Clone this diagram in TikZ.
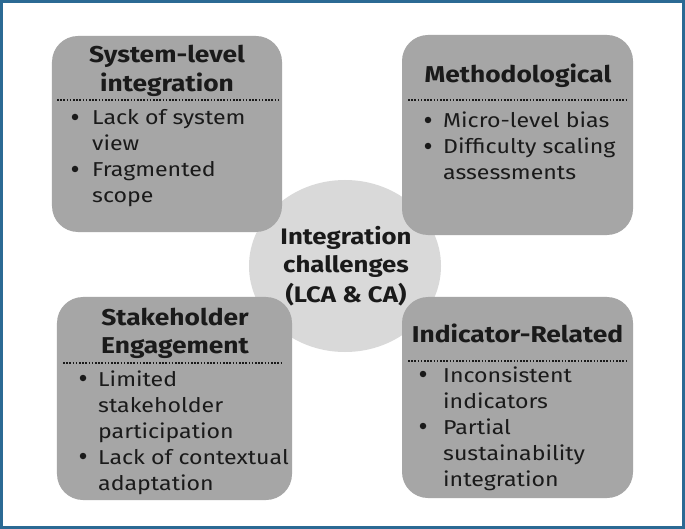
\documentclass[tikz,border=0pt]{standalone}
\usepackage{fontspec}
\setmainfont{Fira Sans}[FakeStretch=1.15]
\usetikzlibrary{shapes.geometric}
\definecolor{boxgray}{HTML}{A6A6A6}
\definecolor{circgray}{HTML}{D9D9D9}
\definecolor{framblue}{HTML}{2B6A94}
\definecolor{ink}{HTML}{1A1A1A}
\tikzset{
  box/.style={fill=boxgray, rounded corners=26bp, inner sep=0pt},
  ttl/.style={inner sep=0pt, anchor=base, font=\fontsize{23}{26}\selectfont\bfseries, text=ink},
  ctl/.style={inner sep=0pt, anchor=base, font=\fontsize{22.5}{26}\selectfont\bfseries, text=ink},
  itm/.style={inner sep=0pt, anchor=base west, font=\fontsize{20.2}{26}\selectfont, text=ink},
  bul/.style={circle, fill=ink, inner sep=0pt, minimum size=6.5bp},
  dots/.style={line width=1.8bp, dash pattern=on 1.6bp off 1.6bp, ink},
}
\begin{document}
\begin{tikzpicture}[x=1bp,y=-1bp]
\useasboundingbox (0,0) rectangle (685,529);
\fill[white] (0,0) rectangle (685,529);
\draw[framblue, line width=2.6bp] (1.5,1.5) rectangle (683.5,527.5);

% centre
\node[ellipse, fill=circgray, minimum width=192bp, minimum height=172bp, inner sep=0pt] (c) at (345,266) {};
\node[ctl] (c1) at (346,245) {Integration};
\node[ctl] (c2) at (346,273) {challenges};
\node[ctl] (c3) at (346,302) {(LCA \& CA)};

% boxes
\node[box, minimum width=230bp, minimum height=196bp] (b1) at (167,134) {};
\node[box, minimum width=231bp, minimum height=200bp] (b2) at (517.5,135) {};
\node[box, minimum width=235bp, minimum height=203bp] (b3) at (174.5,398.5) {};
\node[box, minimum width=231bp, minimum height=201bp] (b4) at (517.5,397.5) {};

% box 1
\node[ttl] (t1a) at (167,63) {System-level};
\node[ttl] (t1b) at (167,92) {integration};
\coordinate (d1a) at (57,100); \coordinate (d1b) at (278,100);
\draw[dots] (d1a) -- (d1b);
\node[bul] (u1a) at (75,117) {};
\node[itm] (i1a) at (92,125) {Lack of system};
\node[itm] (i1b) at (92,151) {view};
\node[bul] (u1b) at (75,169) {};
\node[itm] (i1c) at (92,177) {Fragmented};
\node[itm] (i1d) at (92,203) {scope};

% box 2
\node[ttl] (t2a) at (518,83) {Methodological};
\coordinate (d2a) at (408,100); \coordinate (d2b) at (627,100);
\draw[dots] (d2a) -- (d2b);
\node[bul] (u2a) at (428,120) {};
\node[itm] (i2a) at (443,128) {Micro-level bias};
\node[bul] (u2b) at (428,146) {};
\node[itm] (i2b) at (443,154) {Difficulty scaling};
\node[itm] (i2c) at (443,180) {assessments};

% box 3
\node[ttl] (t3a) at (175,325) {Stakeholder};
\node[ttl] (t3b) at (175,353) {Engagement};
\coordinate (d3a) at (63,363); \coordinate (d3b) at (282,363);
\draw[dots] (d3a) -- (d3b);
\node[bul] (u3a) at (83,378) {};
\node[itm] (i3a) at (98,386) {Limited};
\node[itm] (i3b) at (98,412) {stakeholder};
\node[itm] (i3c) at (98,438) {participation};
\node[bul] (u3b) at (83,456) {};
\node[itm] (i3d) at (98,464) {Lack of contextual};
\node[itm] (i3e) at (98,490) {adaptation};

% box 4
\node[ttl] (t4a) at (517.5,342) {Indicator-Related};
\coordinate (d4a) at (408,361); \coordinate (d4b) at (627,361);
\draw[dots] (d4a) -- (d4b);
\node[bul] (u4a) at (423,374) {};
\node[itm] (i4a) at (443,382) {Inconsistent};
\node[itm] (i4b) at (443,408) {indicators};
\node[bul] (u4b) at (423,426) {};
\node[itm] (i4c) at (443,434) {Partial};
\node[itm] (i4d) at (443,460) {sustainability};
\node[itm] (i4e) at (443,486) {integration};
\end{tikzpicture}
\end{document}
